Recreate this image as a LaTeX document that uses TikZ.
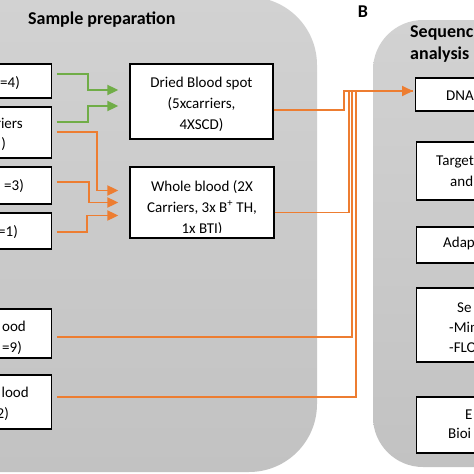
\documentclass[tikz,border=0pt]{standalone}
\usepackage{fontspec}
\setmainfont{Carlito}
\usetikzlibrary{arrows.meta}
\definecolor{org}{HTML}{ED7D31}
\definecolor{grn}{HTML}{70AD47}
\definecolor{pantop}{HTML}{D2D2D2}
\definecolor{panbot}{HTML}{C2C2C2}
\tikzset{
  box/.style={draw=black,line width=1.3pt,fill=white,inner sep=0pt},
  txt/.style={inner sep=0pt,font=\fontsize{15}{21}\selectfont},
  ttl/.style={inner sep=0pt,font=\fontsize{18}{22}\selectfont\bfseries},
  oline/.style={draw=org,line width=1.8pt},
  oarr/.style={oline,-{Triangle[length=11pt,width=10pt]}},
  garr/.style={draw=grn,line width=1.8pt,-{Triangle[length=11pt,width=10pt]}},
}
\begin{document}
\begin{tikzpicture}[x=1pt,y=-1pt]
\useasboundingbox (0,0) rectangle (474,474);
\clip (0,0) rectangle (474,474);
\fill[white] (0,0) rectangle (474,474);
% panels
\shade[top color=pantop,bottom color=panbot,rounded corners=68pt] (-120,-3) rectangle (317,472);
\shade[top color=pantop,bottom color=panbot,rounded corners=50pt] (373,20) rectangle (620,467);
% titles
\node[ttl,anchor=base west] (t1) at (28,24) {Sample preparation};
\node[ttl,anchor=base] (tB) at (363,17) {B};
\node[ttl,anchor=base west] (t2) at (410,37) {Sequenci};
\node[ttl,anchor=base west] (t3) at (410,59) {analysis};
% left boxes (cut at left edge)
\node[box,minimum width=80pt,minimum height=34pt,anchor=east] (L1) at (52,81) {};
\node[box,minimum width=80pt,minimum height=51pt,anchor=east] (L2) at (52,132.5) {};
\node[box,minimum width=80pt,minimum height=37pt,anchor=east] (L3) at (52,185.5) {};
\node[box,minimum width=80pt,minimum height=36pt,anchor=east] (L4) at (52,231) {};
\node[box,minimum width=80pt,minimum height=49pt,anchor=east] (L5) at (52,333.5) {};
\node[box,minimum width=80pt,minimum height=54pt,anchor=east] (L6) at (52,402) {};
\node[txt,anchor=base east] (l1) at (20,87) {=4)};
\node[txt,anchor=base east] (l2a) at (23,128) {riers};
\node[txt,anchor=base east] (l2b) at (6,148) {)};
\node[txt,anchor=base east] (l3) at (24,190) {=3)};
\node[txt,anchor=base east] (l4) at (18,236) {=1)};
\node[txt,anchor=base east] (l5a) at (26,331) {ood};
\node[txt,anchor=base east] (l5b) at (22,352) {=9)};
\node[txt,anchor=base east] (l6a) at (29,397) {lood};
\node[txt,anchor=base east] (l6b) at (9,418) {2)};
% middle boxes
\node[box,minimum width=143pt,minimum height=75pt] (DBS) at (201.5,101.5) {};
\node[txt,align=center,anchor=base] (dbst) at (201.5,129) {Dried Blood spot\\(5xcarriers,\\4XSCD)};
\node[box,minimum width=144pt,minimum height=71pt] (WB) at (202,202.5) {};
% right boxes (cut at right edge)
\node[box,minimum width=130pt,minimum height=33pt,anchor=west] (R1) at (415,94.5) {};
\node[box,minimum width=130pt,minimum height=58pt,anchor=west] (R2) at (416,171) {};
\node[box,minimum width=130pt,minimum height=36pt,anchor=west] (R3) at (416,245) {};
\node[box,minimum width=130pt,minimum height=74pt,anchor=west] (R4) at (416,325) {};
\node[box,minimum width=130pt,minimum height=56pt,anchor=west] (R5) at (416,425) {};
\node[txt,anchor=base west] (r1) at (446,100) {DNA};
\node[txt,anchor=base west] (r2a) at (436,165) {Target};
\node[txt,anchor=base west] (r2b) at (450,186) {and};
\node[txt,anchor=base west] (r3) at (443,247) {Adap};
\node[txt,anchor=base west] (r4a) at (457,312) {Se};
\node[txt,anchor=base west] (r4b) at (449,332) {-Min};
\node[txt,anchor=base west] (r4c) at (449,352) {-FLO};
\node[txt,anchor=base west] (r5a) at (465,419) {E};
\node[txt,anchor=base west] (r5b) at (448,438) {Bioi};
% orange lines into DNA
\coordinate (dnain) at ([shift={(-2,-3.5)}]R1.west);
\coordinate (wbout) at ([shift={(0,10)}]WB.east);
\draw[oline] (wbout) -- ++(74,0) |- (dnain);
\draw[oline] ([shift={(5,3.5)}]L5.east) -- ++(295,0) |- (dnain);
\draw[oline] ([shift={(5,-5)}]L6.east) -- ++(299,0) |- (dnain);
\draw[oarr] ([shift={(0,8.5)}]DBS.east) -- ++(70,0) |- (dnain);
% green arrows
\draw[garr] ([shift={(5,-7)}]L1.east) -- ++(31,0) |- ([shift={(-11,-11.5)}]DBS.west);
\draw[garr] ([shift={(5,-10.5)}]L2.east) -- ++(31,0) |- ([shift={(-11,4.5)}]DBS.west);
% orange arrows into whole blood
\draw[oarr] ([shift={(5,-0.5)}]L2.east) -- ++(40,0) |- ([shift={(-11,-12)}]WB.west);
\draw[oarr] ([shift={(5,-3.5)}]L3.east) -- ++(32,0) |- ([shift={(-11,0)}]WB.west);
\draw[oarr] ([shift={(5,1)}]L4.east) -- ++(30,0) |- ([shift={(-11,13)}]WB.west);
% whole blood text, clipped at its bottom
\begin{scope}
\clip (131,168) rectangle (273,232);
\node[txt,align=center,anchor=base] (wbt) at (202,233) {Whole blood (2X\\Carriers, 3x B\textsuperscript{+} TH,\\1x BTI)};
\end{scope}
\end{tikzpicture}
\end{document}
